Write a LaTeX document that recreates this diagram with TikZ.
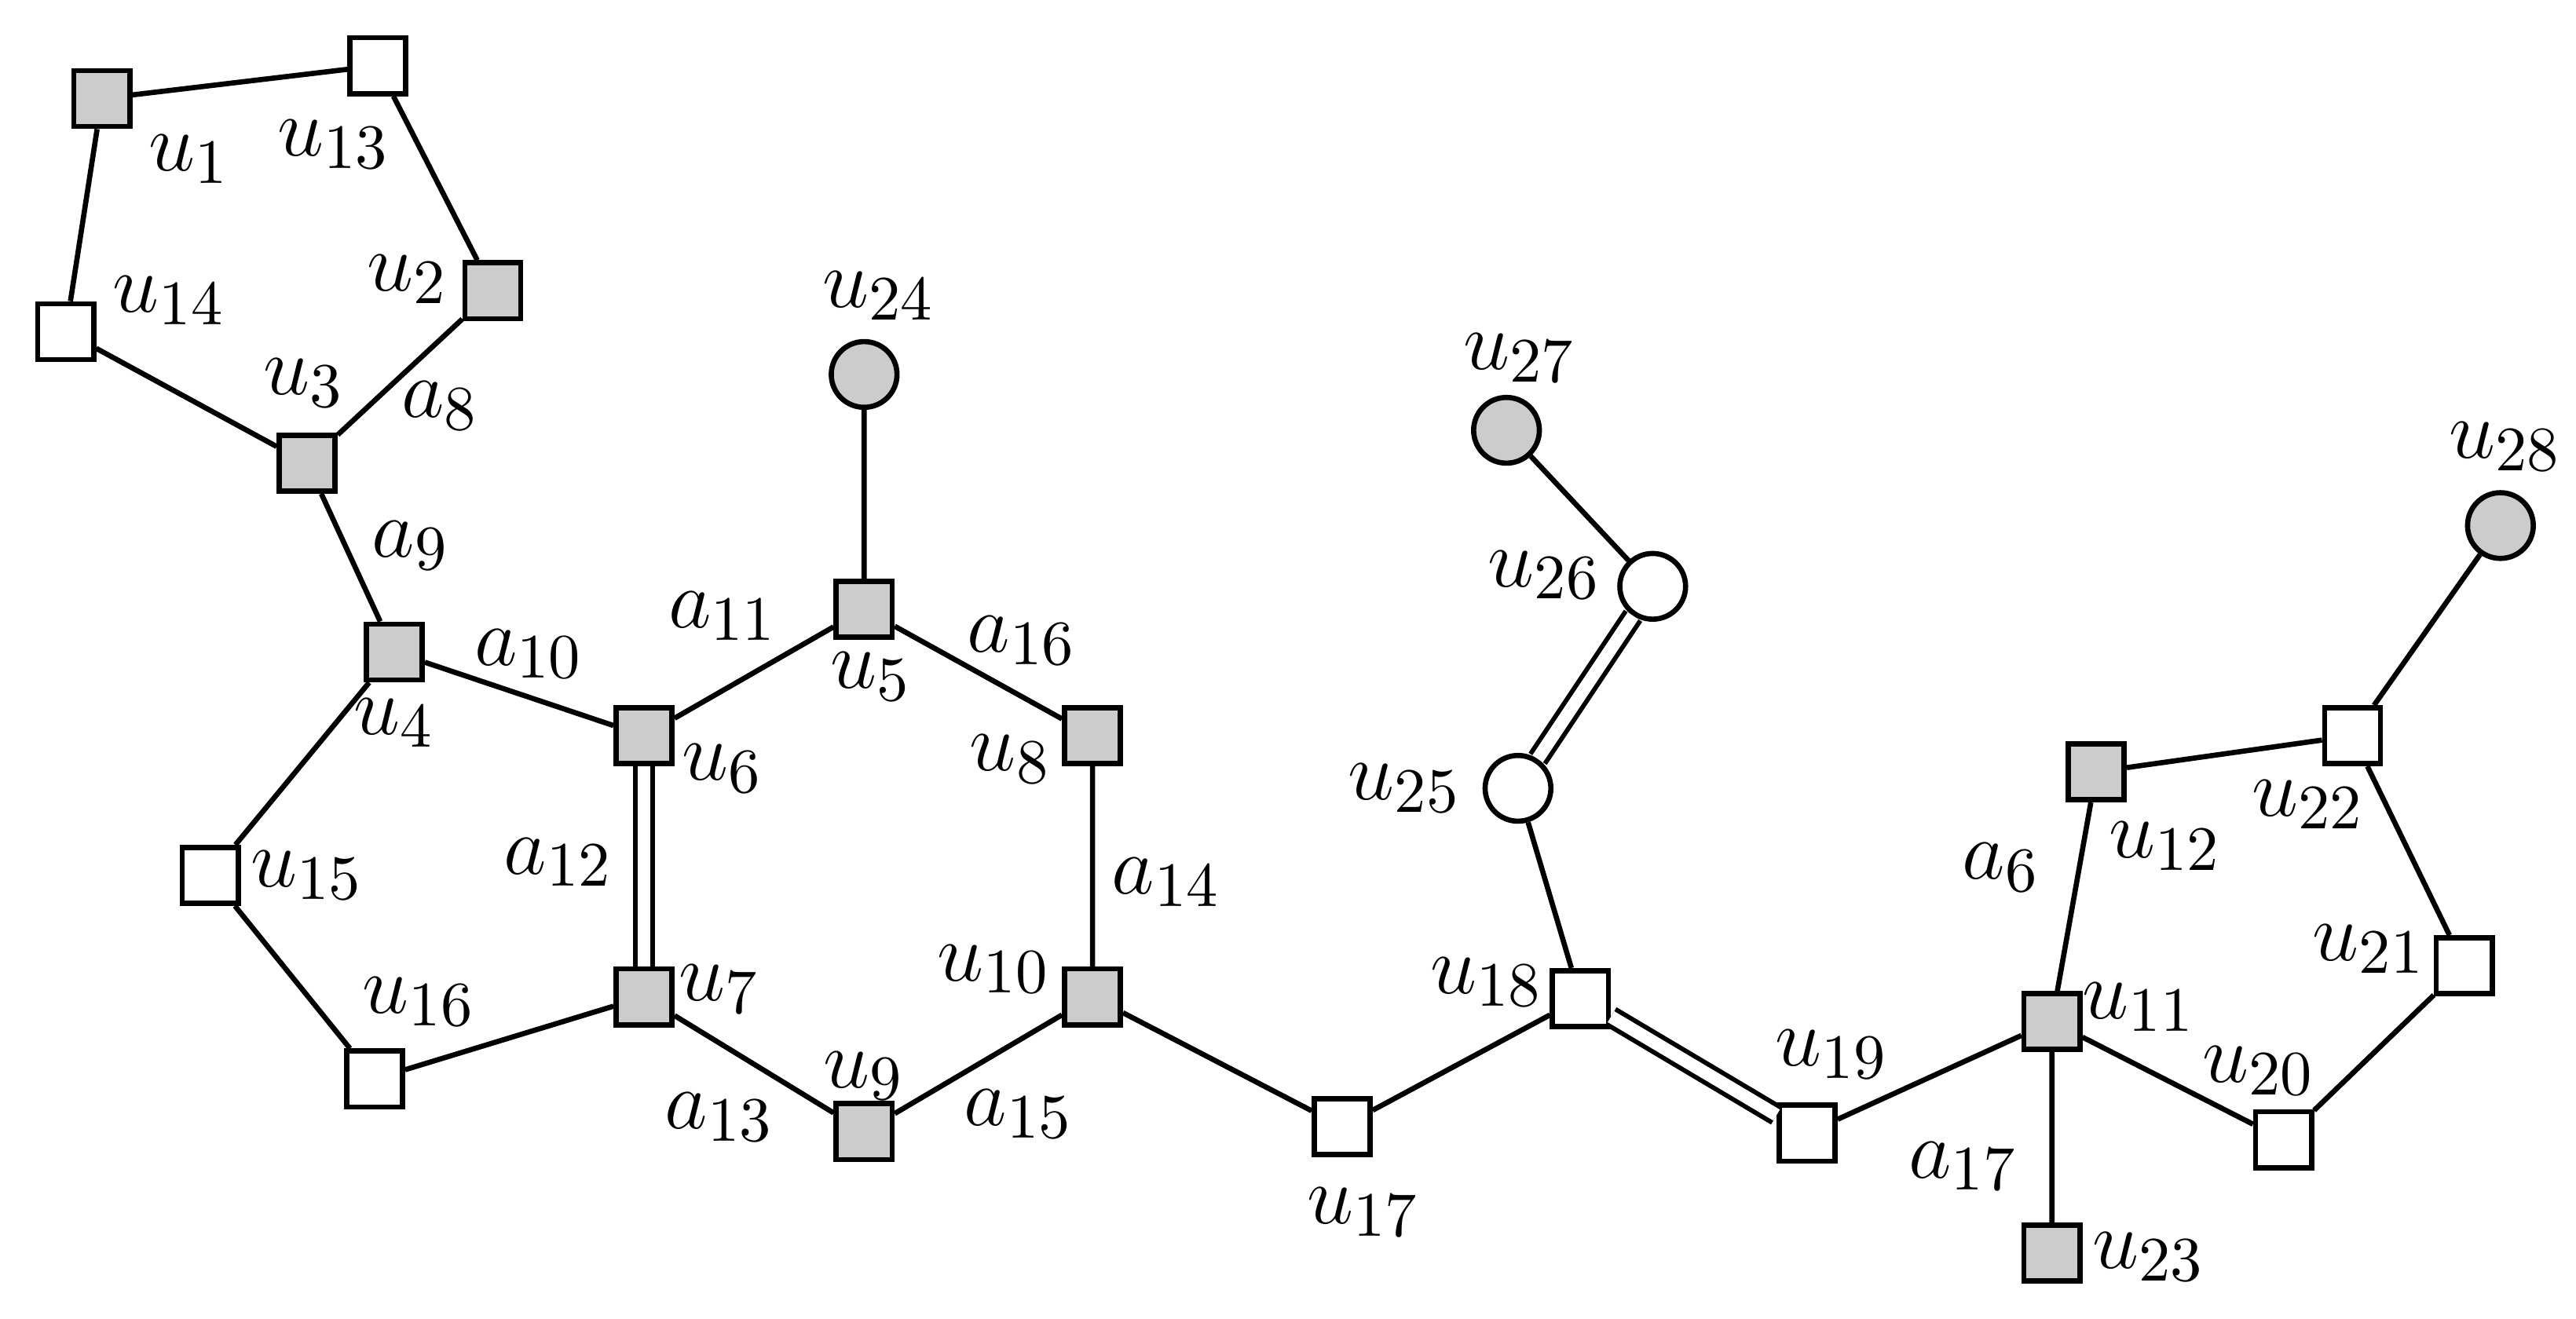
\documentclass[tikz,border=0pt]{standalone}
\begin{document}
\begin{tikzpicture}[x=0.01cm,y=-0.01cm,
 sq/.style={draw,line width=0.9pt,minimum size=0.34cm,inner sep=0pt},
 gs/.style={sq,fill=black!20},
 ws/.style={sq,fill=white},
 gc/.style={circle,draw,line width=0.9pt,minimum size=0.40cm,inner sep=0pt,fill=black!20},
 wc/.style={circle,draw,line width=0.9pt,minimum size=0.40cm,inner sep=0pt,fill=white},
 e/.style={line width=0.9pt},
 dbl/.style={double,double distance=2.2pt,line width=0.8pt},
 lb/.style={font=\fontsize{15.5}{17}\selectfont,inner sep=0pt}]
\useasboundingbox (0,0) rectangle (1568,803);
\node[gs] (u1) at (62,60) {};
\node[ws] (u13) at (230,40) {};
\node[gs] (u2) at (300,177) {};
\node[ws] (u14) at (40,202) {};
\node[gs] (u3) at (187,282) {};
\node[gs] (u4) at (240,397) {};
\node[gc] (u24) at (526,228) {};
\node[gs] (u5) at (526,371) {};
\node[gs] (u6) at (392,448) {};
\node[gs] (u8) at (665,448) {};
\node[ws] (u15) at (128,533) {};
\node[gs] (u7) at (392,607) {};
\node[gs] (u10) at (665,607) {};
\node[ws] (u16) at (228,657) {};
\node[gs] (u9) at (526,689) {};
\node[ws] (u17) at (817,686) {};
\node[gc] (u27) at (917,262) {};
\node[wc] (u26) at (1006,357) {};
\node[wc] (u25) at (924,480) {};
\node[ws] (u18) at (962,608) {};
\node[ws] (u19) at (1100,690) {};
\node[gs] (u11) at (1249,622) {};
\node[gs] (u23) at (1249,763) {};
\node[gs] (u12) at (1276,470) {};
\node[ws] (u22) at (1432,448) {};
\node[gc] (u28) at (1522,320) {};
\node[ws] (u21) at (1500,588) {};
\node[ws] (u20) at (1390,694) {};
\draw[e] (u1)--(u13) (u13)--(u2) (u1)--(u14) (u14)--(u3) (u2)--(u3) (u3)--(u4)
 (u4)--(u6) (u4)--(u15) (u15)--(u16) (u16)--(u7) (u6)--(u5) (u5)--(u24) (u5)--(u8)
 (u8)--(u10) (u10)--(u9) (u9)--(u7) (u10)--(u17) (u17)--(u18) (u18)--(u25) (u26)--(u27)
 (u19)--(u11) (u11)--(u12) (u11)--(u23) (u11)--(u20) (u20)--(u21) (u21)--(u22)
 (u22)--(u12) (u22)--(u28);
\draw[dbl] (u6)--(u7);
\draw[dbl] (u18)--(u19);
\draw[dbl] (u25)--(u26);
\foreach \n/\x/\y in {u_{1}/115/97, u_{13}/203/88, u_{14}/103/183, u_{2}/248/170, u_{3}/185/233,
 a_{8}/268/247, a_{9}/250/332, a_{10}/322/398, u_{4}/240/440, a_{11}/440/375, u_{5}/530/412,
 a_{16}/622/390, u_{6}/440/468, u_{8}/615/462, u_{15}/187/533, a_{12}/340/525, a_{14}/710/537,
 u_{7}/438/602, u_{10}/605/590, u_{16}/255/610, u_{9}/526/655, a_{13}/438/680, a_{15}/620/678,
 u_{17}/830/738, u_{24}/535/180, u_{27}/925/218, u_{26}/940/350, u_{25}/855/480, u_{18}/905/598,
 u_{19}/1115/642, u_{11}/1302/613, u_{12}/1318/515, u_{22}/1405/490, a_{6}/1218/528,
 u_{21}/1442/578, u_{20}/1375/652, a_{17}/1195/710, u_{23}/1308/765, u_{28}/1525/272}
 \node[lb] at (\x,\y) {$\n$};
\end{tikzpicture}
\end{document}
